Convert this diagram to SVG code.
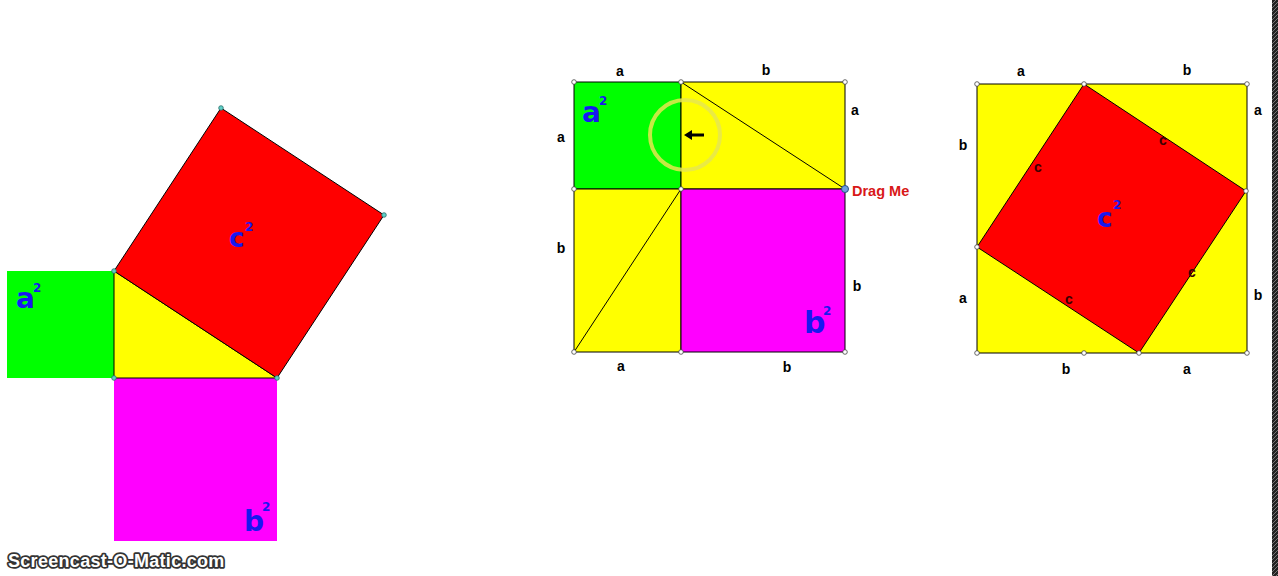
<svg xmlns="http://www.w3.org/2000/svg" width="1278" height="576" viewBox="0 0 1278 576">
<defs>
<style>
.edge{stroke:#000;stroke-width:1;stroke-linejoin:round}
.yel{fill:#ffff00}
.grn{fill:#00ff00}
.mag{fill:#ff00ff}
.red{fill:#ff0000}
.pt{fill:#fff;stroke:#444;stroke-width:0.8}
.cpt{fill:#5fd0c8;stroke:#2a6f6a;stroke-width:0.8}
.lbl{font-family:"Liberation Sans",Arial,sans-serif;font-weight:bold;font-size:14px;fill:#000;text-anchor:middle}
.big{font-family:"DejaVu Sans","Liberation Sans",sans-serif;font-weight:bold;fill:#1818f0}
.sup{font-family:"DejaVu Sans","Liberation Sans",sans-serif;font-weight:bold;fill:#1818f0;font-size:12px}
.cl{font-family:"Liberation Sans",Arial,sans-serif;font-weight:bold;font-size:14px;fill:#3a0000;text-anchor:middle}
</style>
<pattern id="hatch" width="4" height="4" patternUnits="userSpaceOnUse">
<rect width="4" height="4" fill="#222"/>
<path d="M0 4 L4 0" stroke="#777" stroke-width="1"/>
</pattern>
</defs>
<rect width="1278" height="576" fill="#fff"/>

<!-- Left figure -->
<g id="left-a2">
<rect x="7" y="271" width="107" height="107" class="grn"/>
<text x="16" y="308" class="big" font-size="28">a</text>
<text x="33" y="292" class="sup">2</text>
</g>
<g id="left-b2">
<rect x="114" y="378" width="163" height="163" class="mag"/>
<text x="244" y="531" class="big" font-size="28">b</text>
<text x="262" y="511" class="sup">2</text>
</g>
<g id="left-triangle">
<polygon points="114,271 114,378 277,378" class="yel edge"/>
</g>
<g id="left-c2">
<polygon points="114,271 277,378 384,215 221,108" class="red edge"/>
<text x="229" y="247" class="big" font-size="26">c</text>
<text x="245" y="231" class="sup">2</text>
</g>
<g id="left-points">
<circle cx="221" cy="108" r="2.3" class="cpt"/>
<circle cx="384" cy="215" r="2.3" class="cpt"/>
<circle cx="114" cy="271" r="2.3" class="cpt"/>
<circle cx="114" cy="378" r="2.3" class="cpt"/>
<circle cx="277" cy="378" r="2.3" class="cpt"/>
</g>

<!-- Middle figure -->
<g id="mid-a2">
<rect x="574" y="82" width="107" height="107" class="grn edge"/>
<text x="582" y="122" class="big" font-size="28">a</text>
<text x="599" y="105" class="sup">2</text>
</g>
<g id="mid-tr">
<rect x="681" y="82" width="164" height="107" class="yel edge"/>
</g>
<g id="mid-bl">
<rect x="574" y="189" width="107" height="163" class="yel edge"/>
</g>
<g id="mid-b2">
<rect x="681" y="189" width="164" height="163" class="mag edge"/>
<text x="804" y="333" class="big" font-size="30">b</text>
<text x="823" y="315" class="sup">2</text>
</g>
<g id="connectors">
<line x1="681" y1="82" x2="845" y2="189" class="edge"/>
<line x1="574" y1="352" x2="681" y2="189" class="edge"/>
</g>
<g id="cursor">
<circle cx="685" cy="135" r="35" fill="none" stroke="#e6e650" stroke-width="4" opacity="0.85"/>
<path d="M684 135 L692 130 L692 133.5 L704 133.5 L704 136.5 L692 136.5 L692 140 Z" fill="#000"/>
</g>
<g id="mid-points">
<circle cx="574" cy="82" r="2.3" class="pt"/>
<circle cx="681" cy="82" r="2.3" class="pt"/>
<circle cx="845" cy="82" r="2.3" class="pt"/>
<circle cx="574" cy="189" r="2.3" class="pt"/>
<circle cx="681" cy="189" r="2.3" class="pt"/>
<circle cx="574" cy="352" r="2.3" class="pt"/>
<circle cx="681" cy="352" r="2.3" class="pt"/>
<circle cx="845" cy="352" r="2.3" class="pt"/>
<circle cx="845" cy="189" r="3.5" fill="#6fa0e0" stroke="#2a4f80" stroke-width="1"/>
</g>
<g id="mid-labels">
<text x="620" y="76" class="lbl">a</text>
<text x="766" y="75" class="lbl">b</text>
<text x="561" y="142" class="lbl">a</text>
<text x="855" y="115" class="lbl">a</text>
<text x="561" y="253" class="lbl">b</text>
<text x="857" y="291" class="lbl">b</text>
<text x="621" y="371" class="lbl">a</text>
<text x="787" y="372" class="lbl">b</text>
<text x="852" y="196" font-family="Liberation Sans,Arial,sans-serif" font-weight="bold" font-size="14.5" fill="#d81818">Drag Me</text>
</g>

<!-- Right figure -->
<g id="right-square">
<rect x="977" y="84" width="270" height="269" class="yel edge"/>
</g>
<g id="right-c2">
<polygon points="1084,84 1246,191 1139,353 977,247" class="red edge"/>
<text x="1097" y="227" class="big" font-size="26">c</text>
<text x="1113" y="209" class="sup">2</text>
<text x="1038" y="172" class="cl">c</text>
<text x="1163" y="145" class="cl">c</text>
<text x="1192" y="277" class="cl">c</text>
<text x="1069" y="304" class="cl">c</text>
</g>
<g id="right-points">
<circle cx="977" cy="84" r="2.3" class="pt"/>
<circle cx="1084" cy="84" r="2.3" class="pt"/>
<circle cx="1247" cy="84" r="2.3" class="pt"/>
<circle cx="1246" cy="191" r="2.3" class="pt"/>
<circle cx="977" cy="247" r="2.3" class="pt"/>
<circle cx="977" cy="353" r="2.3" class="pt"/>
<circle cx="1084" cy="353" r="2.3" class="pt"/>
<circle cx="1139" cy="353" r="2.3" class="pt"/>
<circle cx="1247" cy="353" r="2.3" class="pt"/>
</g>
<g id="right-labels">
<text x="1021" y="76" class="lbl">a</text>
<text x="1187" y="75" class="lbl">b</text>
<text x="1258" y="115" class="lbl">a</text>
<text x="963" y="150" class="lbl">b</text>
<text x="963" y="303" class="lbl">a</text>
<text x="1258" y="300" class="lbl">b</text>
<text x="1066" y="374" class="lbl">b</text>
<text x="1187" y="374" class="lbl">a</text>
</g>

<rect x="1272" y="0" width="6" height="576" fill="url(#hatch)"/>

<g id="watermark">
<text x="8" y="567" font-family="Liberation Sans,Arial,sans-serif" font-weight="bold" font-size="18" letter-spacing="0.3" fill="#fff" stroke="#333" stroke-width="3.5" stroke-linejoin="round" paint-order="stroke">Screencast-O-Matic.com</text>
</g>
</svg>
